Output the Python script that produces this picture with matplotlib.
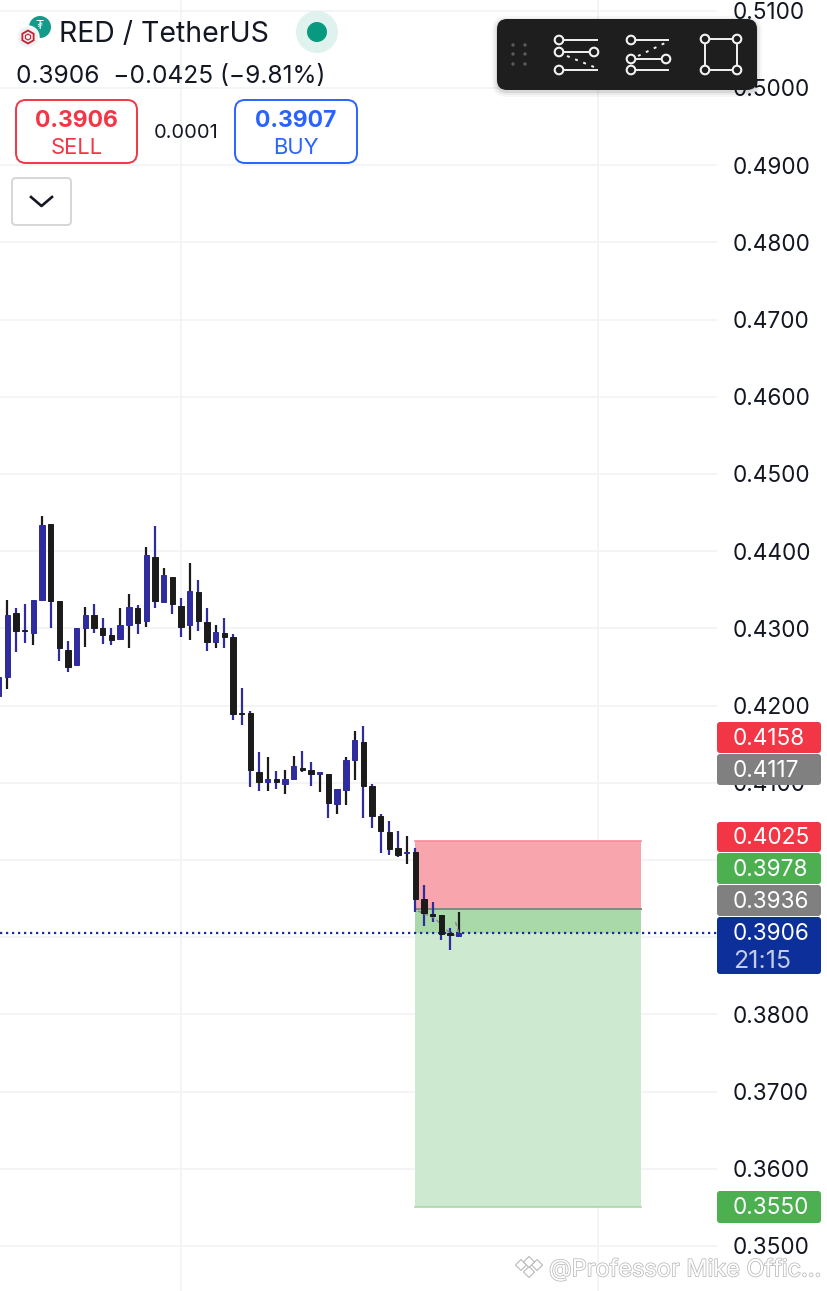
import matplotlib
matplotlib.use("Agg")
import matplotlib.pyplot as plt
import matplotlib.patheffects as pe
from matplotlib.patches import Circle, FancyBboxPatch, RegularPolygon

plt.rcParams["font.family"] = ["Inter", "DejaVu Sans"]

# candles
opens = [.4212, .4237, .4320, .4298, .4294, .4337, .4435, .4335, .4272, .4252, .4300, .4317, .4301, .4291,
         .4286, .4304, .4327, .4309, .4393, .4334, .4367, .4329, .4304, .4347, .4308, .4283, .4294,
         .4289, .4190, .4190, .4114, .4101, .4105, .4099, .4105, .4119, .4117, .4111, .4111, .4073, .4091,
         .4129, .4153, .4096, .4057, .4036, .4016, .4009, .4010, .3950, .3930, .3929, .3905, .3901]
highs = [.4237, .4337, .4326, .4331, .4337, .4445, .4435, .4335, .4284, .4300, .4328, .4332, .4313, .4301,
         .4327, .4344, .4330, .4406, .4432, .4378, .4367, .4339, .4385, .4363, .4326, .4305, .4313,
         .4293, .4223, .4193, .4140, .4133, .4115, .4116, .4135, .4141, .4127, .4114, .4111, .4092, .4133,
         .4167, .4174, .4098, .4059, .4051, .4037, .4031, .4015, .3967, .3946, .3929, .3912, .3932]
lows = [.4200, .4222, .4270, .4281, .4279, .4337, .4300, .4258, .4244, .4252, .4276, .4294, .4280, .4278,
        .4285, .4274, .4293, .4302, .4326, .4334, .4319, .4289, .4285, .4297, .4271, .4275, .4275,
        .4181, .4175, .4095, .4089, .4090, .4092, .4085, .4105, .4114, .4096, .4088, .4055, .4060, .4071,
        .4103, .4055, .4041, .4009, .4006, .4004, .3995, .3933, .3915, .3920, .3897, .3884, .3901]
closes = [.4237, .4318, .4297, .4296, .4337, .4434, .4335, .4274, .4250, .4300, .4317, .4301, .4291, .4285,
          .4304, .4328, .4307, .4395, .4336, .4369, .4331, .4302, .4348, .4310, .4283, .4295, .4289,
          .4189, .4189, .4116, .4101, .4105, .4101, .4105, .4122, .4116, .4111, .4114, .4074, .4092, .4129,
          .4155, .4096, .4057, .4037, .4014, .4006, .4010, .3950, .3931, .3928, .3904, .3903, .3906]

price_ticks = [.51, .50, .49, .48, .47, .46, .45, .44, .43, .42, .41, .40, .39, .38, .37, .36, .35]
# these two sit fully under the price tags
hidden_ticks = [.40, .39]
time_grid = [21, 69]

last_price = .3906
stop_price = .4025
entry_price = .3936
target_price = .3550
position_start = 48
position_end = 74

path_x = [48.3, 50.2, 52.2, 52.9]
path_y = [.3934, .3925, .3903, .3903]
path2_x = [53.0, 52.6]
path2_y = [.3906, .3921]

tag_text = ["0.4158", "0.4117", "0.4025", "0.3978", "0.3936", "0.3906", "0.3550"]
tag_color = ["#f23645", "#808080", "#f23645", "#4caf50", "#808080", "#0c2f9a", "#4caf50"]
tag_top = [722, 754, 822, 853, 885, 917, 1191]
tag_bottom = [753, 785, 852, 884, 916, 974, 1223]

BLUE = "#2e2c9e"
BLACK = "#1b1b1b"
GRID = "#f2f3f5"
W, H = 828, 1291
AXIS_X = 717


def px(n):
    return n * 0.72


def rbox(ax, x0, y0, x1, y1, r, fc, ec="none", lw=0, z=3, alpha=None):
    p = FancyBboxPatch((x0 + r, y0 + r), x1 - x0 - 2 * r, y1 - y0 - 2 * r,
                       boxstyle="round,pad=%f,rounding_size=%f" % (r, r),
                       fc=fc, ec=ec, lw=lw, zorder=z, alpha=alpha)
    ax.add_patch(p)


def knob(ax, x, y):
    ax.add_patch(Circle((x, y), 4.3, fc="#1e1e1e", ec="#f2f2f2", lw=1.5, zorder=8))


def seg(ax, x0, y0, x1, y1, ls="-"):
    ax.plot([x0, x1], [y0, y1], color="#f2f2f2", lw=1.4, ls=ls, zorder=7)


fig = plt.figure(figsize=(W / 100, H / 100), dpi=100, facecolor="white")

# price chart
ax = fig.add_axes([0, 0, AXIS_X / W, 1])
ax.set_xlim(1.36 / 8.68, (AXIS_X + 1.36) / 8.68)
ax.set_ylim(.5 - (H - 88) / 7720, .5 + 88 / 7720)
for s in ax.spines.values():
    s.set_visible(False)
ax.yaxis.tick_right()
ax.set_yticks(price_ticks)
ax.set_yticklabels(["" if p in hidden_ticks else "%.4f" % p for p in price_ticks],
                   fontsize=px(22.6), color="#131722")
ax.tick_params(axis="y", length=0, pad=px(15.5))
ax.set_xticks(time_grid)
ax.tick_params(axis="x", length=0, labelbottom=False)
ax.grid(True, color=GRID, lw=1.3)
ax.set_axisbelow(True)

# trade box
ax.fill_between([position_start, position_end], entry_price, stop_price, color="#f9a5ae", lw=0, zorder=1)
ax.fill_between([position_start, position_end], target_price, entry_price, color="#cde9cf", lw=0, zorder=1)
ax.fill_between([position_start, position_end], last_price, entry_price, color="#a9d8a9", lw=0, zorder=1.1)
ax.plot([position_start, position_end], [stop_price, stop_price], color="#f58c97", lw=1.2, zorder=1.2)
ax.plot([position_start, position_end], [entry_price, entry_price], color="#808a80", lw=1.4, zorder=1.2)
ax.plot([position_start, position_end], [target_price, target_price], color="#a9d8a9", lw=1.2, zorder=1.2)

ax.axhline(last_price, color="#1a2a9a", lw=1.6, ls=(0, (1, 1.7)), zorder=2.4)

for i in range(len(opens)):
    up = closes[i] >= opens[i]
    body = BLUE if up else BLACK
    wick = BLACK if up else BLUE
    ax.vlines(i, lows[i], highs[i], color=wick, lw=1.6, zorder=3)
    ax.bar(i, abs(closes[i] - opens[i]), bottom=min(opens[i], closes[i]), width=0.62,
           color=body, edgecolor=body, lw=0.7, zorder=4)

ax.plot(path_x, path_y, color="#8a8a8a", lw=1, ls=(0, (3, 2)), zorder=3.5)
ax.plot(path2_x, path2_y, color="#8a8a8a", lw=1, ls=(0, (3, 2)), zorder=3.5)

# overlay in pixel coordinates
ui = fig.add_axes([0, 0, 1, 1], facecolor="none")
ui.set_xlim(0, W)
ui.set_ylim(H, 0)
ui.axis("off")

# price tags
for text, color, top, bottom in zip(tag_text, tag_color, tag_top, tag_bottom):
    rbox(ui, AXIS_X, top, 821, bottom, 3, color, z=5)
    yc = (top + bottom) / 2 + 1.5 if bottom - top < 40 else top + 17
    ui.text(732.5, yc, text, color="white", fontsize=px(22.6), va="center", ha="left", zorder=6)
ui.text(733, 961, "21:15", color="#c3cbe8", fontsize=px(25), va="center", ha="left", zorder=6)

# header
ui.add_patch(Circle((40, 27), 11, fc="#129a8a", ec="none", zorder=3))
ui.text(40, 26, "₮", color="white", fontsize=px(13), ha="center", va="center", zorder=4)
ui.add_patch(Circle((28, 37), 11, fc="#f1f1f4", ec="white", lw=1, zorder=5))
ui.add_patch(RegularPolygon((28, 37), 6, radius=6.5, fc="none", ec="#c4202f", lw=1.3, zorder=6))
ui.add_patch(RegularPolygon((28, 37), 6, radius=3, fc="none", ec="#c4202f", lw=0.8, zorder=6))
ui.text(59, 34.5, "RED / TetherUS", color="#131722", fontsize=px(28.4), ha="left", va="center", zorder=6)
ui.add_patch(Circle((317, 32), 21, fc="#dff2ee", ec="none", zorder=3))
ui.add_patch(Circle((317, 32), 10, fc="#089981", ec="none", zorder=4))
ui.text(16, 76, "0.3906  −0.0425 (−9.81%)", color="#131722", fontsize=px(24.5), ha="left", va="center", zorder=6)

rbox(ui, 16, 100, 137, 163, 10, "white", ec="#f23645", lw=1.4)
ui.text(76.5, 121, "0.3906", color="#f23645", fontsize=px(23), fontweight="bold", ha="center", va="center", zorder=6)
ui.text(76.5, 148, "SELL", color="#f23645", fontsize=px(22), ha="center", va="center", zorder=6)
ui.text(186, 133, "0.0001", color="#131722", fontsize=px(20), ha="center", va="center", zorder=6)
rbox(ui, 235, 100, 357, 163, 10, "white", ec="#2962ff", lw=1.4)
ui.text(296, 121, "0.3907", color="#2962ff", fontsize=px(23), fontweight="bold", ha="center", va="center", zorder=6)
ui.text(296, 148, "BUY", color="#2962ff", fontsize=px(22), ha="center", va="center", zorder=6)

rbox(ui, 12, 178, 71, 225, 4, "white", ec="#d6d6d6", lw=1.4)
ui.plot([31, 41.5, 52], [197, 206, 197], color="#131722", lw=1.9, zorder=6)

# drawing toolbar
for grow, a in [(5, .03), (3, .05), (1, .08)]:
    rbox(ui, 497 - grow, 19 - grow + 2, 757 + grow, 90 + grow + 2, 10 + grow, "black", z=6.5, alpha=a)
rbox(ui, 497, 19, 757, 90, 10, "#1e1e1e", z=6.6)
for dx in [513, 525]:
    for dy in [45, 54, 64]:
        ui.add_patch(Circle((dx, dy), 1.7, fc="#5a5a5a", ec="none", zorder=7))

seg(ui, 559, 40, 597, 40)
seg(ui, 559, 52, 594, 52)
seg(ui, 567, 56, 594, 67, ls=(0, (1.5, 3)))
seg(ui, 559, 70, 597, 70)
knob(ui, 559, 40)
knob(ui, 559, 52)
knob(ui, 594, 52)
knob(ui, 559, 70)

seg(ui, 631, 40, 668, 40)
seg(ui, 638, 56, 665, 43, ls=(0, (1.5, 3)))
seg(ui, 631, 59, 666, 59)
seg(ui, 631, 70, 668, 70)
knob(ui, 631, 40)
knob(ui, 631, 59)
knob(ui, 666, 59)
knob(ui, 631, 70)

seg(ui, 705, 39, 737, 39)
seg(ui, 737, 39, 737, 70)
seg(ui, 737, 70, 705, 70)
seg(ui, 705, 70, 705, 39)
knob(ui, 705, 39)
knob(ui, 737, 39)
knob(ui, 705, 70)
knob(ui, 737, 70)

# watermark
outline = [pe.withStroke(linewidth=1.1, foreground="#b9b9b9")]
ui.text(549, 1270, "@Professor Mike Offic...", color="white", fontsize=px(23.5), ha="left", va="center",
        zorder=9, path_effects=outline)
for mx, my in [(529, 1272), (521, 1265), (537, 1265), (529, 1262)]:
    ui.add_patch(RegularPolygon((mx, my), 4, radius=5.5, fc="white", ec="#b9b9b9", lw=0.8, zorder=9))

fig.savefig("out.png", dpi=100)
